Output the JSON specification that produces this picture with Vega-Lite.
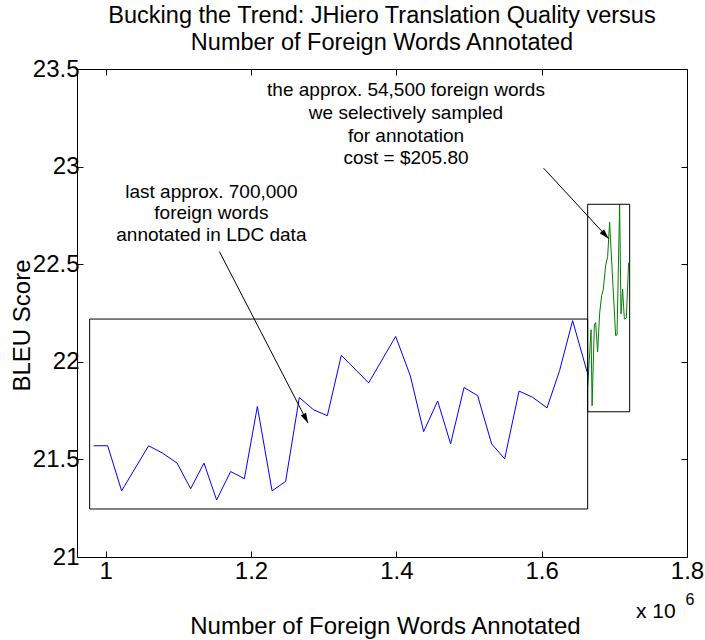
{
  "$schema": "https://vega.github.io/schema/vega-lite/v6.json",
  "width": 610,
  "height": 488,
  "autosize": {"type": "none"},
  "padding": {"left": 77, "top": 69, "right": 18, "bottom": 83},
  "background": "white",
  "title": {
    "text": ["Bucking the Trend: JHiero Translation Quality versus", "Number of Foreign Words Annotated"],
    "font": "Liberation Sans",
    "fontSize": 23.5,
    "fontWeight": "normal",
    "color": "black",
    "lineHeight": 27,
    "anchor": "middle",
    "offset": 3
  },
  "config": {
    "view": {"stroke": null},
    "axis": {
      "grid": false,
      "domainColor": "black",
      "tickColor": "black",
      "labelColor": "black",
      "titleColor": "black",
      "labelFont": "Liberation Sans",
      "titleFont": "Liberation Sans",
      "labelFontSize": 24,
      "titleFontSize": 24,
      "titleFontWeight": "normal",
      "tickSize": -6,
      "labelFlush": false,
      "labelOverlap": false
    }
  },
  "datasets": {
    "ldc": [
      {"words": 0.9835, "bleu": 21.570},
      {"words": 1.0028, "bleu": 21.570},
      {"words": 1.0220, "bleu": 21.339},
      {"words": 1.0592, "bleu": 21.570},
      {"words": 1.0780, "bleu": 21.533},
      {"words": 1.0983, "bleu": 21.481},
      {"words": 1.1170, "bleu": 21.350},
      {"words": 1.1354, "bleu": 21.481},
      {"words": 1.1527, "bleu": 21.292},
      {"words": 1.1720, "bleu": 21.438},
      {"words": 1.1909, "bleu": 21.401},
      {"words": 1.2088, "bleu": 21.771},
      {"words": 1.2290, "bleu": 21.339},
      {"words": 1.2477, "bleu": 21.387},
      {"words": 1.2665, "bleu": 21.817},
      {"words": 1.2862, "bleu": 21.754},
      {"words": 1.3051, "bleu": 21.724},
      {"words": 1.3243, "bleu": 22.033},
      {"words": 1.3619, "bleu": 21.892},
      {"words": 1.3991, "bleu": 22.130},
      {"words": 1.4193, "bleu": 21.928},
      {"words": 1.4376, "bleu": 21.642},
      {"words": 1.4569, "bleu": 21.799},
      {"words": 1.4747, "bleu": 21.580},
      {"words": 1.4932, "bleu": 21.868},
      {"words": 1.5119, "bleu": 21.827},
      {"words": 1.5312, "bleu": 21.579},
      {"words": 1.5491, "bleu": 21.503},
      {"words": 1.5689, "bleu": 21.850},
      {"words": 1.5872, "bleu": 21.819},
      {"words": 1.6074, "bleu": 21.764},
      {"words": 1.6247, "bleu": 21.955},
      {"words": 1.6426, "bleu": 22.211},
      {"words": 1.6629, "bleu": 21.944}
    ],
    "selective": [
      {"words": 1.6633, "bleu": 21.874},
      {"words": 1.6680, "bleu": 22.164},
      {"words": 1.6694, "bleu": 21.775},
      {"words": 1.6725, "bleu": 22.189},
      {"words": 1.6743, "bleu": 22.201},
      {"words": 1.6770, "bleu": 22.050},
      {"words": 1.6798, "bleu": 22.249},
      {"words": 1.6825, "bleu": 22.338},
      {"words": 1.6849, "bleu": 22.372},
      {"words": 1.6880, "bleu": 22.492},
      {"words": 1.6908, "bleu": 22.539},
      {"words": 1.6935, "bleu": 22.715},
      {"words": 1.7018, "bleu": 22.135},
      {"words": 1.7037, "bleu": 22.138},
      {"words": 1.7073, "bleu": 22.807},
      {"words": 1.7092, "bleu": 22.246},
      {"words": 1.7114, "bleu": 22.372},
      {"words": 1.7138, "bleu": 22.219},
      {"words": 1.7165, "bleu": 22.224},
      {"words": 1.7197, "bleu": 22.508}
    ],
    "boxes": [
      {"name": "ldc", "x1": 0.978, "x2": 1.6633, "y1": 21.246, "y2": 22.219},
      {"name": "selective", "x1": 1.6633, "x2": 1.7211, "y1": 21.744, "y2": 22.807}
    ],
    "arrows": [
      {"name": "ldc", "x1": 1.1565, "y1": 22.565, "x2": 1.2785, "y2": 21.686},
      {"name": "selective", "x1": 1.6027, "y1": 22.992, "x2": 1.6922, "y2": 22.631}
    ],
    "notes": [
      {"x": 1.4133, "y": 23.393, "text": "the approx. 54,500 foreign words"},
      {"x": 1.4133, "y": 23.277, "text": "we selectively sampled"},
      {"x": 1.4133, "y": 23.158, "text": "for annotation"},
      {"x": 1.4133, "y": 23.043, "text": "cost = $205.80"},
      {"x": 1.1455, "y": 22.872, "text": "last approx. 700,000"},
      {"x": 1.1455, "y": 22.761, "text": "foreign words"},
      {"x": 1.1455, "y": 22.650, "text": "annotated in LDC data"}
    ]
  },
  "resolve": {"axis": {"x": "independent", "y": "independent"}},
  "layer": [
    {
      "data": {"name": "ldc"},
      "mark": {"type": "line", "color": "#0000ff", "strokeWidth": 1},
      "encoding": {
        "x": {
          "field": "words", "type": "quantitative",
          "scale": {"domain": [0.9606, 1.8], "nice": false, "zero": false},
          "axis": {
            "orient": "bottom",
            "values": [1, 1.2, 1.4, 1.6, 1.8],
            "format": "~g",
            "labelPadding": 8,
            "title": "Number of Foreign Words Annotated",
            "titleX": 308,
            "titleY": 76,
            "titleBaseline": "alphabetic"
          }
        },
        "y": {
          "field": "bleu", "type": "quantitative",
          "scale": {"domain": [21, 23.5], "nice": false, "zero": false},
          "axis": {
            "orient": "left",
            "values": [21, 21.5, 22, 22.5, 23, 23.5],
            "format": "~g",
            "labelPadding": 4,
            "title": "BLEU Score",
            "titleX": -55,
            "titleY": 256,
            "titleBaseline": "middle"
          }
        }
      }
    },
    {
      "data": {"name": "selective"},
      "mark": {"type": "line", "color": "#008000", "strokeWidth": 1},
      "encoding": {
        "x": {
          "field": "words", "type": "quantitative",
          "axis": {"orient": "top", "values": [1, 1.2, 1.4, 1.6, 1.8], "labels": false, "title": null}
        },
        "y": {
          "field": "bleu", "type": "quantitative",
          "axis": {"orient": "right", "values": [21, 21.5, 22, 22.5, 23, 23.5], "labels": false, "title": null}
        }
      }
    },
    {
      "data": {"name": "boxes"},
      "mark": {"type": "rect", "fill": null, "stroke": "black", "strokeWidth": 1},
      "encoding": {
        "x": {"field": "x1", "type": "quantitative", "axis": null},
        "x2": {"field": "x2"},
        "y": {"field": "y1", "type": "quantitative", "axis": null},
        "y2": {"field": "y2"}
      }
    },
    {
      "data": {"name": "arrows"},
      "mark": {"type": "rule", "color": "black", "strokeWidth": 1},
      "encoding": {
        "x": {"field": "x1", "type": "quantitative", "axis": null},
        "x2": {"field": "x2"},
        "y": {"field": "y1", "type": "quantitative", "axis": null},
        "y2": {"field": "y2"}
      }
    },
    {
      "data": {"name": "arrows"},
      "transform": [{"filter": "datum.name == 'ldc'"}],
      "mark": {"type": "point", "shape": "M0,0L-0.6,2L0.6,2Z", "filled": true, "color": "black", "opacity": 1, "size": 100, "angle": 152.7, "strokeWidth": 0},
      "encoding": {
        "x": {"field": "x2", "type": "quantitative", "axis": null},
        "y": {"field": "y2", "type": "quantitative", "axis": null}
      }
    },
    {
      "data": {"name": "arrows"},
      "transform": [{"filter": "datum.name == 'selective'"}],
      "mark": {"type": "point", "shape": "M0,0L-0.6,2L0.6,2Z", "filled": true, "color": "black", "opacity": 1, "size": 100, "angle": 137.3, "strokeWidth": 0},
      "encoding": {
        "x": {"field": "x2", "type": "quantitative", "axis": null},
        "y": {"field": "y2", "type": "quantitative", "axis": null}
      }
    },
    {
      "data": {"name": "notes"},
      "mark": {"type": "text", "font": "Liberation Sans", "fontSize": 19, "color": "black", "align": "center", "baseline": "middle"},
      "encoding": {
        "x": {"field": "x", "type": "quantitative", "axis": null},
        "y": {"field": "y", "type": "quantitative", "axis": null},
        "text": {"field": "text", "type": "nominal"}
      }
    },
    {
      "data": {"values": [{"x": 1.757, "y": 20.72, "text": "x 10"}]},
      "mark": {"type": "text", "font": "Liberation Sans", "fontSize": 21, "color": "black", "align": "center", "baseline": "middle"},
      "encoding": {
        "x": {"field": "x", "type": "quantitative", "axis": null},
        "y": {"field": "y", "type": "quantitative", "axis": null},
        "text": {"field": "text", "type": "nominal"}
      }
    },
    {
      "data": {"values": [{"x": 1.8039, "y": 20.78, "text": "6"}]},
      "mark": {"type": "text", "font": "Liberation Sans", "fontSize": 16, "color": "black", "align": "center", "baseline": "middle"},
      "encoding": {
        "x": {"field": "x", "type": "quantitative", "axis": null},
        "y": {"field": "y", "type": "quantitative", "axis": null},
        "text": {"field": "text", "type": "nominal"}
      }
    }
  ]
}
